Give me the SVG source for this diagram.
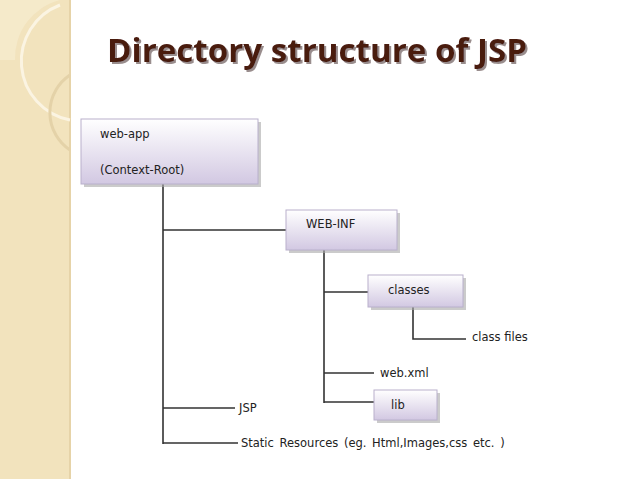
<svg xmlns="http://www.w3.org/2000/svg" width="638" height="479" viewBox="0 0 638 479">
<defs>
<linearGradient id="box" x1="0" y1="0" x2="0" y2="1"><stop offset="0" stop-color="#ffffff"/><stop offset="1" stop-color="#d2c8e2"/></linearGradient>
<filter id="ts" x="-5%" y="-20%" width="110%" height="150%"><feDropShadow dx="2" dy="2" stdDeviation="0.6" flood-color="#807070" flood-opacity="0.8"/></filter>
<style>
.b{fill:url(#box);stroke:#b9b0cc;stroke-width:1}
.sh{fill:#a9a9a9;opacity:0.6}
.t{font-family:"DejaVu Sans","Liberation Sans",sans-serif;font-size:11.5px;fill:#222}
.c{fill:none;stroke:#333;stroke-width:1.6}
</style>
</defs>
<rect width="638" height="479" fill="#fff"/>
<g id="decor">
<rect x="0" y="0" width="70" height="479" fill="#f2e3bd"/>
<rect x="69" y="0" width="2" height="479" fill="#e6d3a8"/>
<path d="M60 5 A60 60 0 0 0 70 120" fill="none" stroke="#fbf4e2" stroke-width="3"/>
<path d="M70 75 A45 45 0 0 0 70 150" fill="none" stroke="#e4d2a8" stroke-width="3"/>
<path d="M0 0 H60 A60 60 0 0 0 15 60 H0Z" fill="#f7ecd0" opacity="0.7"/>
</g>
<g id="title">
<text x="107" y="62" fill="#4a1a10" filter="url(#ts)" font-family="'Open Sans','DejaVu Sans',sans-serif" font-weight="bold" font-size="32" textLength="420" lengthAdjust="spacingAndGlyphs">Directory structure of JSP</text>
</g>
<g id="connectors">
<path class="c" d="M163 184V444M163 230H286M163 408H235M163 443H238"/>
<path class="c" d="M324 250V403M324 292H368M324 373H374M324 402H374"/>
<path class="c" d="M413 307V339H466"/>
</g>
<g id="web-app"><rect class="sh" x="84" y="122" width="177" height="65"/><rect class="b" x="81" y="119" width="177" height="65"/>
<text class="t" x="100" y="138">web-app</text><text class="t" x="100" y="174">(Context-Root)</text></g>
<g id="web-inf"><rect class="sh" x="289" y="213" width="111" height="40"/><rect class="b" x="286" y="210" width="111" height="40"/>
<text class="t" x="306" y="228">WEB-INF</text></g>
<g id="classes"><rect class="sh" x="371" y="278" width="95" height="32"/><rect class="b" x="368" y="275" width="95" height="32"/>
<text class="t" x="388" y="294">classes</text></g>
<g id="lib"><rect class="sh" x="377" y="393" width="63" height="30"/><rect class="b" x="374" y="390" width="63" height="30"/>
<text class="t" x="391" y="409">lib</text></g>
<g id="leaves">
<text class="t" x="472" y="341">class files</text>
<text class="t" x="380" y="377">web.xml</text>
<text class="t" x="239" y="412">JSP</text>
<text class="t" x="241" y="447" word-spacing="2">Static Resources (eg. Html,Images,css etc. )</text>
</g>
</svg>
